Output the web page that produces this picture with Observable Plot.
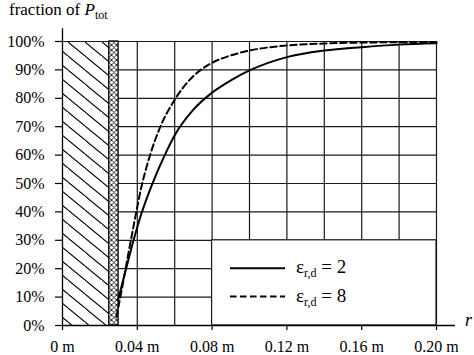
<!DOCTYPE html>
<html>
<head>
<meta charset="utf-8">
<script src="https://cdn.jsdelivr.net/npm/d3@7"></script>
<script src="https://cdn.jsdelivr.net/npm/@observablehq/plot@0.6"></script>
<style>
  html, body { margin: 0; padding: 0; background: #fff; }
  #chart { width: 474px; height: 355px; }
  svg { display: block; }
  svg text { font-family: "Liberation Serif", "Times New Roman", Times, "DejaVu Serif", "Noto Serif", serif !important; }
</style>
</head>
<body>
<div id="chart"></div>
<script>
// --- data ---
const xTicks = [0, 0.04, 0.08, 0.12, 0.16, 0.20];
const xTickLabels = ["0 m", "0.04 m", "0.08 m", "0.12 m", "0.16 m", "0.20 m"];
const yTicks = [0, 10, 20, 30, 40, 50, 60, 70, 80, 90, 100];
const gridX = [0.04, 0.06, 0.08, 0.10, 0.12, 0.14, 0.16, 0.18, 0.20];
const gridY = [10, 20, 30, 40, 50, 60, 70, 80, 90];

// conductor (hatched) and dielectric (cross-hatched) regions, in m
const hatchRegion = [0, 0.025];
const crossRegion = [0.025, 0.03];
// legend box extent (m, %)
const legendBox = [0.08, 0.20, 0, 30];

// series: epsilon_r,d = 2 (solid)
const r2 = [0.0297, 0.034, 0.038, 0.042, 0.0475, 0.054, 0.060, 0.070, 0.080, 0.090, 0.100, 0.120, 0.140, 0.160, 0.180, 0.200];
const p2 = [9, 20, 30, 39, 49, 59, 67, 76, 82, 86.3, 89.8, 94.5, 96.8, 98.0, 98.9, 99.4];
// series: epsilon_r,d = 8 (dashed)
const r8 = [0.0288, 0.0315, 0.035, 0.0386, 0.0421, 0.0466, 0.052, 0.060, 0.068, 0.075, 0.080, 0.090, 0.100, 0.120, 0.140, 0.170, 0.200];
const p8 = [3, 12, 24.5, 37, 48.5, 59.5, 69.5, 79.5, 86.5, 90.5, 92.5, 95.1, 96.8, 98.6, 99.3, 99.7, 99.8];

const legendLabels = ["2", "8"];

const s2 = r2.map((r, i) => ({r, p: p2[i]}));
const s8 = r8.map((r, i) => ({r, p: p8[i]}));

const FONT = "Liberation Serif, Times New Roman, Times, DejaVu Serif, Noto Serif, serif";
const GRID = "#1a1a1a";

const plot = Plot.plot({
  width: 474,
  height: 355,
  marginLeft: 62,
  marginRight: 38,
  marginTop: 41,
  marginBottom: 30,
  style: {fontFamily: FONT, fontSize: "16px", color: "#000", background: "#fff"},
  x: {domain: [0, 0.2], axis: null, label: null},
  y: {domain: [0, 100], axis: null, label: null},
  marks: [
    // grid
    Plot.ruleY(gridY, {x1: 0, x2: 0.2, stroke: GRID, strokeWidth: 1.2}),
    Plot.ruleX(gridX, {y1: 0, y2: 100, stroke: GRID, strokeWidth: 1.2}),
    // hatched conductor region
    Plot.rect([hatchRegion], {x1: d => d[0], x2: d => d[1], y1: 0, y2: 100, fill: "#fff"}),
    Plot.rect([hatchRegion], {x1: d => d[0], x2: d => d[1], y1: 0, y2: 100, fill: "url(#hatch)"}),
    // cross-hatched dielectric region
    Plot.rect([crossRegion], {x1: d => d[0], x2: d => d[1], y1: 0, y2: 100, fill: "#fff"}),
    Plot.rect([crossRegion], {x1: d => d[0], x2: d => d[1], y1: 0, y2: 100, fill: "url(#cross)", stroke: "#000", strokeWidth: 1.3}),
    // legend box
    Plot.rect([legendBox], {x1: d => d[0], x2: d => d[1], y1: d => d[2], y2: d => d[3], fill: "#fff", stroke: GRID, strokeWidth: 1.2}),
    // top line
    Plot.ruleY([100], {x1: 0, x2: 0.2, stroke: GRID, strokeWidth: 1.2}),
    // curves
    Plot.line(s2, {x: "r", y: "p", stroke: "#000", strokeWidth: 2, curve: "monotone-x"}),
    Plot.line(s8, {x: "r", y: "p", stroke: "#000", strokeWidth: 2, strokeDasharray: "6.5,3.5", curve: "monotone-x"}),
    // axis lines
    Plot.ruleY([0], {x1: 0, x2: 0.2101, stroke: "#000", strokeWidth: 1.3}),
    Plot.ruleX([0], {y1: 0, y2: 104.5, stroke: "#000", strokeWidth: 1.3}),
    // axes
    Plot.axisX(xTicks, {label: null, tickSize: 5, tickPadding: 10, tickFormat: (d, i) => xTickLabels[i], fontSize: 16, fontFamily: FONT, strokeWidth: 1.2}),
    Plot.axisY(yTicks, {label: null, tickSize: 7, tickPadding: 11, tickFormat: d => d + "%", fontSize: 16, fontFamily: FONT, strokeWidth: 1.2})
  ]
});

const svg = d3.select(plot);
const defs = svg.insert("defs", ":first-child");
const hp = defs.append("pattern").attr("id", "hatch").attr("patternUnits", "userSpaceOnUse")
  .attr("width", 17).attr("height", 14);
hp.append("path").attr("d", "M-1,-0.82L18,14.82 M-18,-0.82L1,14.82 M16,-14.82L35,0.82")
  .attr("stroke", "#000").attr("stroke-width", 1.1).attr("fill", "none");
const cp = defs.append("pattern").attr("id", "cross").attr("patternUnits", "userSpaceOnUse")
  .attr("width", 5).attr("height", 5).attr("x", 1.5);
cp.append("rect").attr("width", 5).attr("height", 5).attr("fill", "#fff");
cp.append("path").attr("d", "M0,0L5,5 M5,0L0,5")
  .attr("stroke", "#000").attr("stroke-width", 0.85).attr("fill", "none");

const y = plot.scale("y");

// title
const t = svg.append("text").attr("x", 9).attr("y", 15).attr("text-anchor", "start")
  .attr("font-size", 17).attr("fill", "#000");
t.append("tspan").text("fraction of ");
t.append("tspan").attr("font-style", "italic").text("P");
t.append("tspan").attr("font-size", 12).attr("dy", 4).text("tot");

// axis name r
svg.append("text").attr("x", 465).attr("y", 326).attr("text-anchor", "start")
  .attr("font-size", 18).attr("font-style", "italic").text("r");

// legend
const legY = [20, 10];
legendLabels.forEach((lab, i) => {
  const yy = y.apply(legY[i]);
  svg.append("line").attr("x1", 230).attr("x2", 285).attr("y1", yy).attr("y2", yy)
    .attr("stroke", "#000").attr("stroke-width", 2)
    .attr("stroke-dasharray", i === 1 ? "6.5,3.5" : null);
  const tx = svg.append("text").attr("x", 296).attr("y", yy + 5).attr("text-anchor", "start")
    .attr("font-size", 19).attr("fill", "#000");
  tx.append("tspan").text("ε");
  tx.append("tspan").attr("font-size", 12).attr("dy", 4).text("r,d");
  tx.append("tspan").attr("dy", -4).text(" = " + lab);
});

document.getElementById("chart").appendChild(plot);
</script>
</body>
</html>
